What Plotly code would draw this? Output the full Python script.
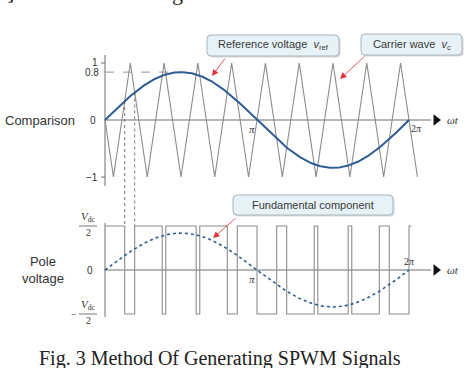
import numpy as np
import plotly.graph_objects as go

# ---------------- data / parameters ----------------
W, H = 474, 368
modulation_index = 0.84          # drawn peak of the reference (labelled 0.8)
reference_label = "0.8"
carrier_cycles = 9               # carrier periods per fundamental period
pole_end_extra = 0.05            # pole trace runs slightly past 2π

top_yticks = [1, 0, -1]
top_ytick_text = ["1", "0", "\u22121"]
x_marks = [np.pi, 2 * np.pi]
x_mark_text = ["<i>\u03c0</i>", "2<i>\u03c0</i>"]
box_texts = ["Reference voltage  <i>v</i><sub>ref</sub>",
             "Carrier wave  <i>v</i><sub>c</sub>",
             "Fundamental component"]
caption = "Fig. 3 Method Of Generating SPWM Signals"

# ---------------- pixel <-> axis mapping ----------------
X0_PX = 105.0
PX_PER_RAD = 304.0 / (2 * np.pi)
TOP_ZERO_PX, TOP_PX_PER_UNIT = 120.0, 57.0
BOT_ZERO_PX, BOT_PX_PER_UNIT = 270.0, 44.0

x_range = [-X0_PX / PX_PER_RAD, (W - X0_PX) / PX_PER_RAD]
y_range = [-(H - TOP_ZERO_PX) / TOP_PX_PER_UNIT, TOP_ZERO_PX / TOP_PX_PER_UNIT]
y2_range = [-(H - BOT_ZERO_PX) / BOT_PX_PER_UNIT, BOT_ZERO_PX / BOT_PX_PER_UNIT]


def x_of_px(px):
    return (px - X0_PX) / PX_PER_RAD


def ytop_of_px(py):
    return (TOP_ZERO_PX - py) / TOP_PX_PER_UNIT


def px_of_ybot(v):
    return BOT_ZERO_PX - v * BOT_PX_PER_UNIT


def pxx(px):
    return px / W


def pyy(py):
    return 1 - py / H


# ---------------- signals ----------------
T = 2 * np.pi / carrier_cycles
t_end_carrier = 2 * np.pi + T / 4
vert_t = [0.0] + list(np.arange(T / 4, t_end_carrier + 1e-9, T / 2))
vert_v = [0.0] + [(-1) ** (k + 1) for k in range(len(vert_t) - 1)]

t = np.linspace(0, 2 * np.pi, 600)
ref = modulation_index * np.sin(t)

tg = np.linspace(0, 2 * np.pi + pole_end_extra, 400001)
sg = modulation_index * np.sin(tg)
cg = np.interp(tg, vert_t, vert_v)
pole = np.where(sg >= cg, 1.0, -1.0)
idx = np.nonzero(np.diff(pole))[0] + 1
sw_t = tg[idx]
pole_x = [0.0] + list(sw_t) + [tg[-1]]
pole_y = [pole[0]] + list(pole[idx]) + [pole[-1]]

AX_COL = "#6f6f6f"
CAR_COL = "#8a8a8a"
REF_COL = "#2f5c93"
TXT = "#333333"

fig = go.Figure()

# ---------- top: comparison ----------
x_axis_end = x_of_px(431)
arrow_x = x_of_px(436)
fig.add_trace(go.Scatter(x=[0, x_axis_end], y=[0, 0], mode="lines",
                         line=dict(color=AX_COL, width=1.2), yaxis="y", hoverinfo="skip"))
fig.add_trace(go.Scatter(x=[0, 0], y=[ytop_of_px(55), ytop_of_px(186)], mode="lines",
                         line=dict(color=AX_COL, width=1), yaxis="y", hoverinfo="skip"))
fig.add_trace(go.Scatter(x=[arrow_x], y=[0], mode="markers",
                         marker=dict(symbol="triangle-right", size=10, color="#111"),
                         yaxis="y", hoverinfo="skip"))
# dashed 0.8 guide
fig.add_trace(go.Scatter(x=[0, np.pi / 2], y=[modulation_index] * 2, mode="lines",
                         line=dict(color="#777", width=0.8, dash="dash"), yaxis="y", hoverinfo="skip"))
# carrier
fig.add_trace(go.Scatter(x=vert_t, y=vert_v, mode="lines",
                         line=dict(color=CAR_COL, width=1.1), yaxis="y", hoverinfo="skip"))
# reference sine
fig.add_trace(go.Scatter(x=t, y=ref, mode="lines",
                         line=dict(color=REF_COL, width=2), yaxis="y", hoverinfo="skip"))
# dotted projection lines of the first two switching instants
y_link = ytop_of_px(px_of_ybot(1))
for ts in sw_t[:2]:
    fig.add_trace(go.Scatter(x=[ts, ts], y=[modulation_index * np.sin(ts), y_link], mode="lines",
                             line=dict(color="#555", width=0.8, dash="dot"), yaxis="y", hoverinfo="skip"))

# ---------- bottom: pole voltage ----------
fig.add_trace(go.Scatter(x=[0, x_axis_end], y=[0, 0], mode="lines",
                         line=dict(color=AX_COL, width=1.2), yaxis="y2", hoverinfo="skip"))
fig.add_trace(go.Scatter(x=[0, 0], y=[1.07, -1.07], mode="lines",
                         line=dict(color=AX_COL, width=1), yaxis="y2", hoverinfo="skip"))
fig.add_trace(go.Scatter(x=[arrow_x], y=[0], mode="markers",
                         marker=dict(symbol="triangle-right", size=10, color="#111"),
                         yaxis="y2", hoverinfo="skip"))
fig.add_trace(go.Scatter(x=pole_x, y=pole_y, mode="lines", line_shape="hv",
                         line=dict(color="#8c8c8c", width=1.1), yaxis="y2", hoverinfo="skip"))
fig.add_trace(go.Scatter(x=t, y=ref, mode="lines",
                         line=dict(color=REF_COL, width=1.6, dash="dot"), yaxis="y2", hoverinfo="skip"))

ann = []
shapes = []
serif = "Liberation Serif"
sans = "Liberation Sans"

# top y tick labels + ticks
for v, s in zip(top_yticks, top_ytick_text):
    ann.append(dict(x=0, y=v, xref="x", yref="y", text=s, showarrow=False,
                    xanchor="right", xshift=-7 if v == 0 else -5, yshift=1 if v == 1 else 0,
                    font=dict(family=sans, size=10, color=TXT)))
    if v != 0:
        shapes.append(dict(type="line", xref="x", yref="y", x0=x_of_px(101), x1=0, y0=v, y1=v,
                           line=dict(color=AX_COL, width=1)))
ann.append(dict(x=0, y=modulation_index, xref="x", yref="y", text=reference_label, showarrow=False,
                xanchor="right", xshift=-4, font=dict(family=sans, size=10, color=TXT)))
# x marks top
ann.append(dict(x=x_marks[0], y=0, xref="x", yref="y", text=x_mark_text[0], showarrow=False,
                xanchor="right", yanchor="top", xshift=0, yshift=-1,
                font=dict(family=serif, size=11, color=TXT)))
ann.append(dict(x=x_marks[1], y=0, xref="x", yref="y", text=x_mark_text[1], showarrow=False,
                xanchor="left", yanchor="top", xshift=0, yshift=-1,
                font=dict(family=serif, size=10, color=TXT)))
ann.append(dict(x=x_of_px(445), y=0, xref="x", yref="y", text="<i>\u03c9t</i>", showarrow=False,
                xanchor="left", font=dict(family=serif, size=11, color=TXT)))
ann.append(dict(x=pxx(40), y=0, xref="paper", yref="y", text="Comparison", showarrow=False,
                xanchor="center", font=dict(family=sans, size=13, color=TXT)))

# bottom labels
ann.append(dict(x=x_marks[0], y=0, xref="x", yref="y2", text=x_mark_text[0], showarrow=False,
                xanchor="right", yanchor="top", yshift=-1,
                font=dict(family=serif, size=11, color=TXT)))
ann.append(dict(x=x_marks[1], y=0, xref="x", yref="y2", text=x_mark_text[1], showarrow=False,
                xanchor="center", yanchor="bottom", yshift=1,
                font=dict(family=serif, size=10, color=TXT)))
ann.append(dict(x=x_of_px(445), y=0, xref="x", yref="y2", text="<i>\u03c9t</i>", showarrow=False,
                xanchor="left", font=dict(family=serif, size=11, color=TXT)))
ann.append(dict(x=0, y=0, xref="x", yref="y2", text="0", showarrow=False,
                xanchor="right", xshift=-10, font=dict(family=sans, size=10, color=TXT)))
ann.append(dict(x=pxx(43), y=0, xref="paper", yref="y2", text="Pole<br>voltage", showarrow=False,
                xanchor="center", font=dict(family=sans, size=13, color=TXT)))
for v, sign in [(1, ""), (-1, "\u2212")]:
    ann.append(dict(x=x_of_px(88), y=v, xref="x", yref="y2", text="<i>V</i><sub>dc</sub>",
                    showarrow=False, xanchor="center", yanchor="bottom", yshift=0,
                    font=dict(family=serif, size=11, color=TXT)))
    ann.append(dict(x=x_of_px(88), y=v, xref="x", yref="y2", text="2",
                    showarrow=False, xanchor="center", yanchor="top", yshift=1,
                    font=dict(family=serif, size=10, color=TXT)))
    shapes.append(dict(type="line", xref="x", yref="y2", x0=x_of_px(79), x1=x_of_px(97),
                       y0=v, y1=v, line=dict(color="#555", width=0.8)))
    if sign:
        ann.append(dict(x=x_of_px(79), y=v, xref="x", yref="y2", text=sign,
                        showarrow=False, xanchor="right",
                        font=dict(family=serif, size=10, color=TXT)))


# callout boxes
def rounded(x0, y0, x1, y1, r=4):
    X0, X1 = pxx(x0), pxx(x1)
    Y0, Y1 = pyy(y0), pyy(y1)
    rx, ry = r / W, r / H
    return (f"M {X0+rx},{Y0} L {X1-rx},{Y0} Q {X1},{Y0} {X1},{Y0-ry} "
            f"L {X1},{Y1+ry} Q {X1},{Y1} {X1-rx},{Y1} L {X0+rx},{Y1} "
            f"Q {X0},{Y1} {X0},{Y1+ry} L {X0},{Y0-ry} Q {X0},{Y0} {X0+rx},{Y0} Z")


boxes = [(207, 35, 339, 56), (361, 34, 462, 55), (233, 195, 393, 215)]
for (bx0, by0, bx1, by1), txt in zip(boxes, box_texts):
    shapes.append(dict(type="path", xref="paper", yref="paper",
                       path=rounded(bx0 + 1.5, by0 + 1.5, bx1 + 1.5, by1 + 1.5),
                       fillcolor="#d4d8db", line=dict(width=0)))
    shapes.append(dict(type="path", xref="paper", yref="paper", path=rounded(bx0, by0, bx1, by1),
                       fillcolor="#e6f2f8", line=dict(color="#a9b6bf", width=1)))
    ann.append(dict(x=pxx((bx0 + bx1) / 2), y=pyy((by0 + by1) / 2), xref="paper", yref="paper",
                    text=txt, showarrow=False, xanchor="center", yanchor="middle",
                    font=dict(family=sans, size=11, color="#3a3a3a")))

# red pointer arrows: (start px), (tip px)
arrows = [((226, 57), (212, 76)), ((366, 55), (340, 79)), ((237, 217), (213, 238))]
for (sx, sy), (tx, ty) in arrows:
    ann.append(dict(x=pxx(tx), y=pyy(ty), xref="paper", yref="paper", text="",
                    showarrow=True, ax=sx - tx, ay=sy - ty, arrowhead=2, arrowsize=1.6,
                    arrowwidth=0.8, arrowcolor="#e0303c"))

# caption and clipped line above
ann.append(dict(x=pxx(220), y=pyy(358), xref="paper", yref="paper", text=caption, showarrow=False,
                xanchor="center", yanchor="middle", font=dict(family=serif, size=20, color="#222")))
ann.append(dict(x=pxx(10), y=pyy(-9), xref="paper", yref="paper", text="]", showarrow=False,
                xanchor="center", yanchor="middle", font=dict(family=serif, size=22, color="#222")))
ann.append(dict(x=pxx(177), y=pyy(-7), xref="paper", yref="paper", text="g", showarrow=False,
                xanchor="center", yanchor="middle", font=dict(family=serif, size=22, color="#222")))

fig.update_layout(
    width=W, height=H, margin=dict(l=0, r=0, t=0, b=0),
    paper_bgcolor="white", plot_bgcolor="white", showlegend=False,
    xaxis=dict(range=x_range, visible=False, domain=[0, 1]),
    yaxis=dict(range=y_range, visible=False, domain=[0, 1]),
    yaxis2=dict(range=y2_range, visible=False, overlaying="y", domain=[0, 1]),
    annotations=ann, shapes=shapes,
)
fig.write_html("out.html", config={"displayModeBar": False},
               post_script="document.body.style.margin='0';document.body.style.overflow='hidden';")
